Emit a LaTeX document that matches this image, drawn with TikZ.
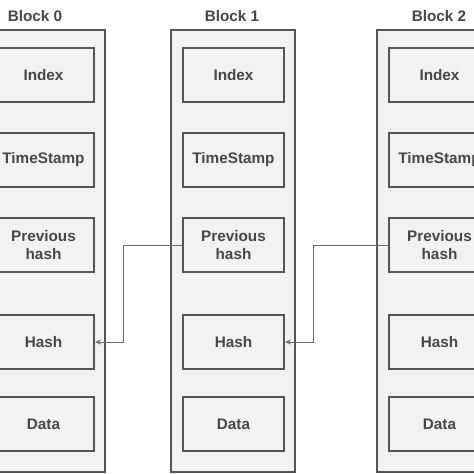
\documentclass[tikz,border=0pt]{standalone}
\usepackage{fontspec}
\setmainfont{Liberation Sans}
\usetikzlibrary{arrows.meta}
\definecolor{boxfill}{HTML}{F2F2F2}
\definecolor{boxline}{HTML}{555555}
\definecolor{txt}{HTML}{474747}
\definecolor{conn}{HTML}{6A6A6A}
\begin{document}
\begin{tikzpicture}[x=1pt,y=-1pt,
  blockbox/.style={draw=boxline,fill=boxfill,line width=2pt},
  fieldbox/.style={draw=boxline,fill=boxfill,line width=2pt,minimum width=101pt,minimum height=54pt,inner sep=0pt,align=center,text=txt,font=\bfseries\fontsize{15.3}{18}\selectfont},
  blocklabel/.style={text=txt,font=\bfseries\fontsize{15.3}{18}\selectfont},
  link/.style={draw=conn,line width=1pt,-{Stealth[length=6pt,width=5pt]}}]
\useasboundingbox (0,0) rectangle (474,474);
\clip (0,0) rectangle (474,474);
\fill[white] (0,0) rectangle (474,474);
\foreach \i/\bx/\lx in {0/-19/35,1/171/232,2/377/439}{
  \draw[blockbox] (\bx,30) rectangle ++(124,442);
  \node[blocklabel] (lab\i) at (\lx,16) {Block \i};
  \node[fieldbox] (idx\i) at (\bx+62.5,75) {Index};
  \node[fieldbox] (ts\i) at (\bx+62.5,160) {TimeStamp};
  \node[fieldbox] (prev\i) at (\bx+62.5,245) {Previous\\hash};
  \node[fieldbox] (hash\i) at (\bx+62.5,342) {Hash};
  \node[fieldbox] (data\i) at (\bx+62.5,424) {Data};
}
\coordinate (c1) at (123,245);
\coordinate (c2) at (313,245);
\draw[link] (prev1.west) -- (c1) |- (hash0.east);
\draw[link] (prev2.west) -- (c2) |- (hash1.east);
\end{tikzpicture}
\end{document}
